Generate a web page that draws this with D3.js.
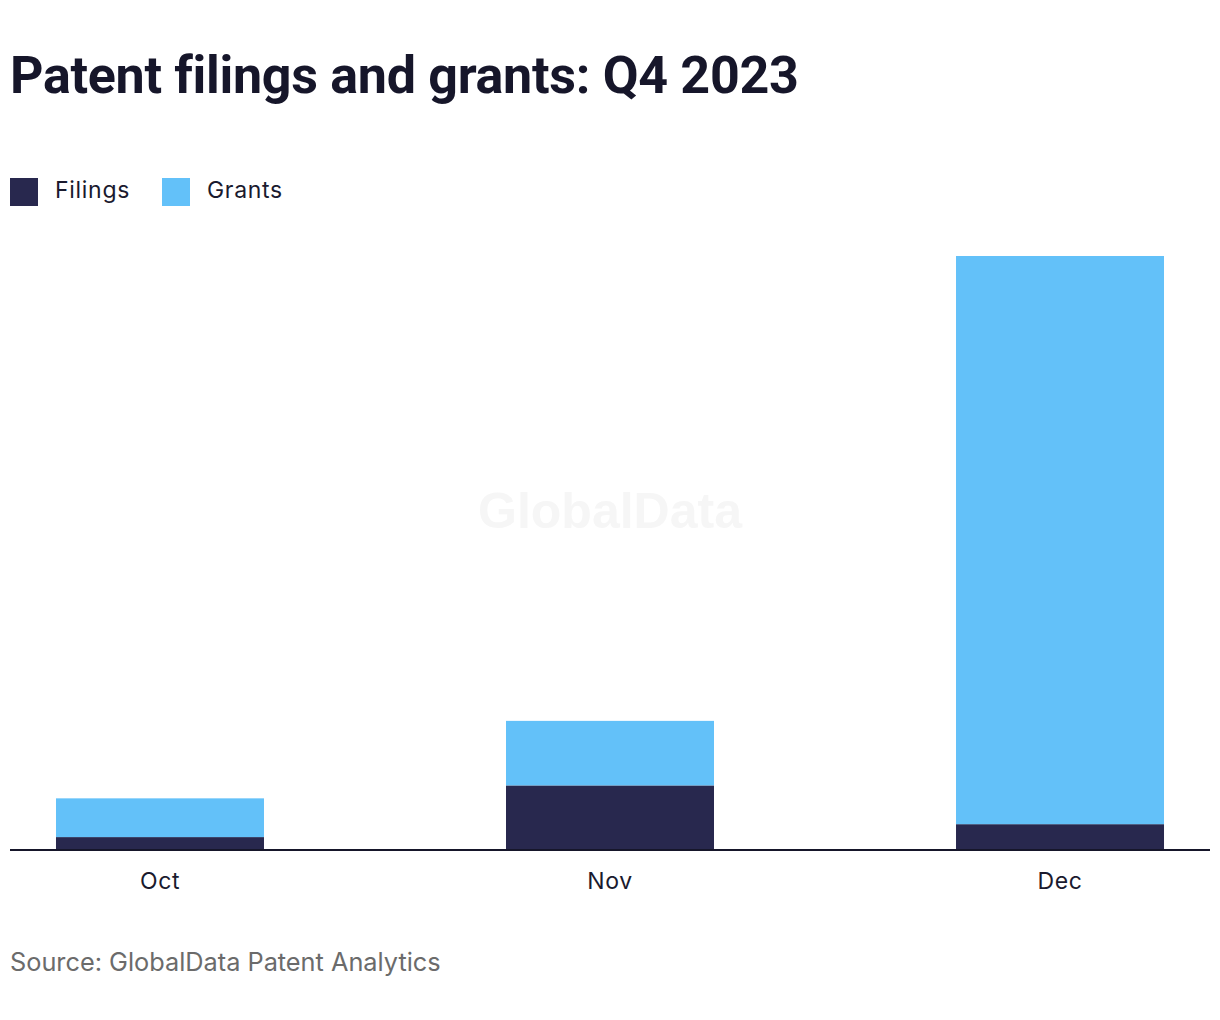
<!DOCTYPE html>
<html>
<head>
<meta charset="utf-8">
<script src="https://cdn.jsdelivr.net/npm/d3@7"></script>
<style>
  html, body { margin: 0; padding: 0; background: #fff; }
  svg { display: block; }
</style>
</head>
<body>
<script>
const months = ["Oct", "Nov", "Dec"];
const filings = [1, 5, 2];
const grants = [3, 5, 44];
const seriesNames = ["Filings", "Grants"];
const seriesColors = ["#28284e", "#63c1f9"];
const titleText = "Patent filings and grants: Q4 2023";
const sourceText = "Source: GlobalData Patent Analytics";

const W = 1220, H = 1020;
const svg = d3.select("body").append("svg").attr("width", W).attr("height", H);

const rows = months.map((m, i) => ({ month: m, Filings: filings[i], Grants: grants[i] }));
const stacked = d3.stack().keys(seriesNames)(rows);

const x = d3.scaleBand().domain(months).range([10, 1210]).paddingInner(0.5378).paddingOuter(0.1022);
const y = d3.scaleLinear().domain([0, d3.max(rows, d => d.Filings + d.Grants)]).range([850, 256]);
const color = d3.scaleOrdinal().domain(seriesNames).range(seriesColors);

// title
svg.append("text").attr("x", 10).attr("y", 93)
  .attr("font-family", "Roboto, 'Liberation Sans', sans-serif")
  .attr("font-weight", 700).attr("font-size", 52).attr("letter-spacing", -0.3)
  .attr("fill", "#16162a").text(titleText);

// legend
const leg = svg.append("g");
const legX = [10, 162];
seriesNames.forEach((s, i) => {
  leg.append("rect").attr("x", legX[i]).attr("y", 178).attr("width", 28).attr("height", 28).attr("fill", color(s));
  leg.append("text").attr("x", legX[i] + 45).attr("y", 198)
    .attr("font-family", "Inter, 'Open Sans', sans-serif").attr("font-size", 23)
    .attr("letter-spacing", 0.7).attr("fill", "#1a1a2e").text(s);
});

// watermark
svg.append("text").attr("x", 610).attr("y", 528).attr("text-anchor", "middle")
  .attr("font-family", "'Liberation Sans', Arial, sans-serif").attr("font-weight", 700)
  .attr("font-size", 50).attr("fill", "#f6f6f6").text("GlobalData");

// bars
svg.append("g").selectAll("g").data(stacked).join("g")
  .attr("fill", d => color(d.key))
  .selectAll("rect").data(d => d).join("rect")
  .attr("x", d => x(d.data.month))
  .attr("width", x.bandwidth())
  .attr("y", d => y(d[1]))
  .attr("height", d => y(d[0]) - y(d[1]));

// axis
const axis = svg.append("g").attr("transform", "translate(0,850)")
  .call(d3.axisBottom(x).tickSize(0).tickPadding(23));
axis.select(".domain").attr("stroke", "#16162a").attr("stroke-width", 2).attr("d", "M10,0H1210");
axis.selectAll("text").attr("font-family", "Inter, 'Open Sans', sans-serif").attr("font-size", 23)
  .attr("letter-spacing", 0.6).attr("fill", "#1a1a2e");

// source
svg.append("text").attr("x", 10).attr("y", 971)
  .attr("font-family", "Inter, 'Open Sans', sans-serif").attr("font-size", 25.3)
  .attr("fill", "#6b6b6b").text(sourceText);
</script>
</body>
</html>
